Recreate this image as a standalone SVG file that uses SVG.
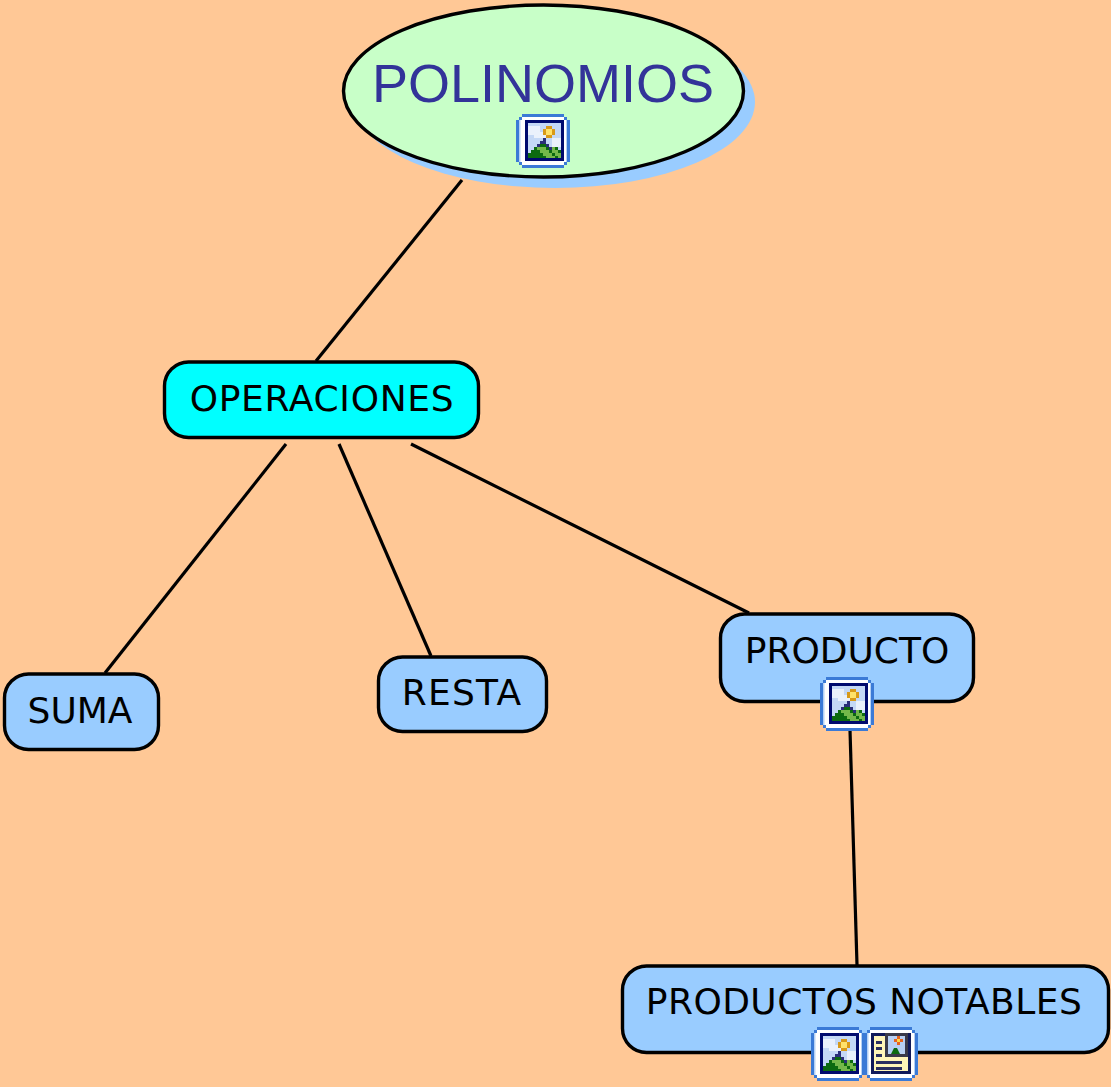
<svg xmlns="http://www.w3.org/2000/svg" width="1111" height="1087" viewBox="0 0 1111 1087">
<style>
.n{stroke:#000;stroke-width:3.4}
.b{fill:#99ccff}
.t{font-family:"DejaVu Sans",Verdana,sans-serif;font-size:36px;fill:#000;text-anchor:middle}
.c line{stroke:#000;stroke-width:3.2;fill:none}
</style>
<defs>
<g id="frame">
<path d="M6 0H48V3H51V6H54V48H51V51H48V54H6V51H3V48H0V6H3V3H6Z" fill="#3b7ad6"/>
<path d="M6 3H48V6H51V48H48V51H6V48H3V6H6Z" fill="#b4d0f4"/>
<path d="M6 3H48V6H50V48H48V51H6V48H4.500V6H6Z" fill="#fff"/>
</g>
<g id="pic">
<use href="#frame"/>
<rect x="9" y="6" width="39" height="41" fill="#000a6e"/>
<rect x="12" y="9" width="33" height="35" fill="#c4d8f6"/>
<path d="M12 12H24V18H30V24H18V21H12Z" fill="#eaf1fc"/>
<path d="M36 24H45V33H36Z" fill="#eaf1fc"/>
<path d="M27 15h3v-3h6v3h3v6h-3v3h-6v-3h-3Z" fill="#d99a18"/>
<path d="M30 15h6v6h-6Z" fill="#ffe26a"/>
<path d="M15 36h3v-3h3v-3h3v-3h3v-3h3v6h3v3h3v6H15Z" fill="#2b2f7a"/>
<path d="M12 44V39H15V36H18V33H24V30H30V33H33V36H36V33H42V36H45V44Z" fill="#0c6a10"/>
<path d="M21 33H30V36H33V39H36V42H39V44H30V42H27V39H24V36H21Z" fill="#74b84a"/>
<path d="M36 33H39V36H42V39H45V44H42V42H39V39H36Z" fill="#74b84a"/>
</g>
<g id="doc">
<use href="#frame"/>
<rect x="7" y="6" width="40" height="41" fill="#111a5a"/>
<rect x="10" y="9" width="34" height="35" fill="#fff5b8"/>
<rect x="21" y="6" width="23" height="24" fill="#3a3a4a"/>
<rect x="24" y="9" width="17" height="18" fill="#b8d0f4"/>
<path d="M30 12h3v-3h3v3h3v3h-3v3h-3v-3h-3Z" fill="#e8641e"/>
<path d="M33 12h3v3h-3Z" fill="#ffd84a"/>
<path d="M27 27l3-6h3l3 6Z" fill="#0c6a10"/>
<path d="M12 14h6v3h-6ZM12 20h6v3h-6ZM12 27h6v3h-6ZM12 34h26v3h-26ZM12 40h26v3h-26Z" fill="#2b2f60"/>
</g>
</defs>
<rect width="1111" height="1087" fill="#ffc896"/>
<g class="c" id="connectors">
<line x1="462" y1="180" x2="316" y2="361"/>
<line x1="286" y1="444" x2="105" y2="673"/>
<line x1="339" y1="444" x2="431" y2="656"/>
<line x1="411" y1="444" x2="749" y2="613"/>
<line x1="850" y1="730" x2="857" y2="965"/>
</g>
<g id="polinomios">
<ellipse cx="555" cy="102" rx="200" ry="86" fill="#99ccff"/>
<ellipse cx="543.5" cy="91" rx="200" ry="86" fill="#c8ffc8" class="n"/>
<text x="543" y="102" font-family="'Liberation Sans',Arial,sans-serif" font-size="54" fill="#333399" text-anchor="middle">POLINOMIOS</text>
<use href="#pic" x="516" y="114"/>
</g>
<g id="operaciones">
<rect x="164.500" y="362" width="314" height="75.500" rx="24" fill="#00ffff" class="n"/>
<text x="322" y="411" class="t" letter-spacing=".7">OPERACIONES</text>
</g>
<g id="suma">
<rect x="4.500" y="674" width="154" height="75.500" rx="24" class="n b"/>
<text x="80" y="723" class="t">SUMA</text>
</g>
<g id="resta">
<rect x="378.500" y="657" width="168" height="74.500" rx="24" class="n b"/>
<text x="462" y="705" class="t" letter-spacing="1.200">RESTA</text>
</g>
<g id="producto">
<rect x="720.500" y="614" width="253" height="87.500" rx="24" class="n b"/>
<text x="847" y="663" class="t">PRODUCTO</text>
<use href="#pic" x="820" y="677"/>
</g>
<g id="productos-notables">
<rect x="622.500" y="966" width="486" height="86.500" rx="24" class="n b"/>
<text x="864" y="1014" class="t" letter-spacing=".45">PRODUCTOS NOTABLES</text>
<use href="#pic" x="811" y="1027"/>
<use href="#doc" x="864" y="1027"/>
</g>
</svg>
